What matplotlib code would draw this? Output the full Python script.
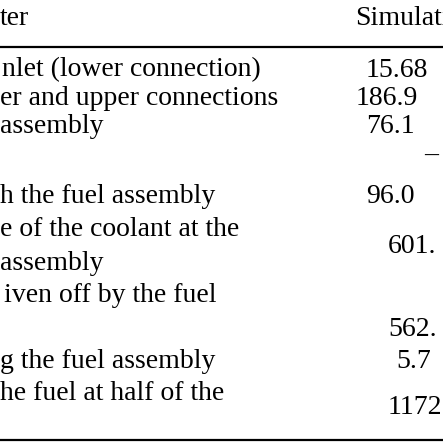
import matplotlib.pyplot as plt

header = ["ter", "Simulatio"]
param_lines = ["nlet (lower connection)", "er and upper connections", "assembly",
               "h the fuel assembly", "e of the coolant at the", "assembly",
               "iven off by the fuel", "g the fuel assembly", "he fuel at half of the"]
values = ["15.68", "186.9", "76.1", "–", "96.0", "601.", "562.", "5.7", "1172"]

# layout (px)
line_y = [70, 98, 126, 196, 229, 264, 295, 361, 393]
line_x = [2, 0, 0, 0, 0, 0, 4, 0, 0]
val_y = [70, 98, 126, 155, 196, 246, 329, 361, 408]
val_x = [366, 356, 366, 424, 366, 388, 388, 396, 388]

W = H = 443
fig = plt.figure(figsize=(4.43, 4.43), dpi=100)
ax = fig.add_axes([0, 0, 1, 1])
ax.set_xlim(0, W)
ax.set_ylim(H, 0)
ax.axis('off')
plt.rcParams['font.family'] = ['Liberation Serif', 'DejaVu Serif']
fs = 20

ax.text(0, 18, header[0], fontsize=fs, va='center', ha='left')
ax.text(355, 18, header[1], fontsize=fs, va='center', ha='left')
ax.plot([0, W], [47, 47], color='black', lw=1.6)
ax.plot([0, W], [440, 440], color='black', lw=1.6)

for p, x, y in zip(param_lines, line_x, line_y):
    ax.text(x, y, p, fontsize=fs, va='center', ha='left')
for v, x, y in zip(values, val_x, val_y):
    ax.text(x, y, v, fontsize=fs, va='center', ha='left')

fig.savefig('out.png', dpi=100)
